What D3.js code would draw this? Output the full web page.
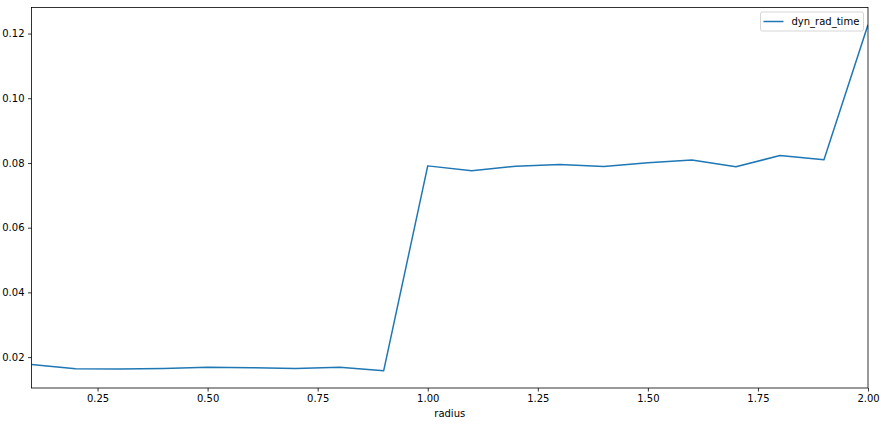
<!DOCTYPE html>
<html>
<head>
<meta charset="utf-8">
<script src="https://cdn.jsdelivr.net/npm/d3@7"></script>
<style>
  body { margin: 0; background: #fff; }
  svg text { font-family: "DejaVu Sans", sans-serif; }
</style>
</head>
<body>
<div id="chart"></div>
<script>
var radius = [0.1, 0.2, 0.3, 0.4, 0.5, 0.6, 0.7, 0.8, 0.9, 1.0, 1.1, 1.2, 1.3, 1.4, 1.5, 1.6, 1.7, 1.8, 1.9, 2.0]
var dynRadTime = [0.0177, 0.0164, 0.0163, 0.0165, 0.0169, 0.0167, 0.0165, 0.0169, 0.0158, 0.0791,
  0.0776, 0.0790, 0.0795, 0.0789, 0.0801, 0.0809, 0.0788, 0.0823, 0.0810, 0.1227]
var xTicks = [0.25, 0.5, 0.75, 1.0, 1.25, 1.5, 1.75, 2.0]
var yTicks = [0.02, 0.04, 0.06, 0.08, 0.10, 0.12]

var width = 883, height = 430
var margin = {top: 7.5, right: 15, bottom: 42, left: 31.5}

var svg = d3.select("#chart")
  .append("svg")
  .attr("width", width)
  .attr("height", height)

var data = radius.map((r, i) => ({r: r, v: dynRadTime[i]}))

// matplotlib style 5% margin on y
var yMin = d3.min(dynRadTime), yMax = d3.max(dynRadTime)
var pad = (yMax - yMin) * 0.05

var xScale = d3.scaleLinear()
  .domain([0.1, 2.0])
  .range([margin.left, width - margin.right])

var yScale = d3.scaleLinear()
  .domain([yMin - pad, yMax + pad])
  .range([height - margin.bottom, margin.top])

var xAxis = d3.axisBottom(xScale)
  .tickValues(xTicks)
  .tickSize(3.5)
  .tickPadding(3.5)
  .tickFormat(d3.format('.2f'))

var yAxis = d3.axisLeft(yScale)
  .tickValues(yTicks)
  .tickSize(3.5)
  .tickPadding(3.5)
  .tickFormat(d3.format('.2f'))

// line
var line = d3.line()
  .x(d => xScale(d.r))
  .y(d => yScale(d.v))

svg.append("defs").append("clipPath")
  .attr("id", "clip")
  .append("rect")
  .attr("x", margin.left)
  .attr("y", margin.top)
  .attr("width", width - margin.left - margin.right)
  .attr("height", height - margin.top - margin.bottom)

svg.append("path")
  .datum(data)
  .attr("clip-path", "url(#clip)")
  .attr("fill", "none")
  .attr("stroke", "#1f77b4")
  .attr("stroke-width", 1.5)
  .attr("stroke-linejoin", "round")
  .attr("d", line)

// axes
svg.append("g")
  .attr("transform", `translate(0,${height - margin.bottom})`)
  .call(xAxis)
  .call(g => g.select(".domain").remove())
  .selectAll("text")
  .attr("font-size", "10px")
  .attr("fill", "#000")

svg.append("g")
  .attr("transform", `translate(${margin.left},0)`)
  .call(yAxis)
  .call(g => g.select(".domain").remove())
  .selectAll("text")
  .attr("font-size", "10px")
  .attr("fill", "#000")

svg.selectAll(".tick line").attr("stroke", "#000").attr("stroke-width", 0.8)

// frame
svg.append("rect")
  .attr("x", margin.left)
  .attr("y", margin.top)
  .attr("width", width - margin.left - margin.right)
  .attr("height", height - margin.top - margin.bottom)
  .attr("fill", "none")
  .attr("stroke", "#000")
  .attr("stroke-width", 0.8)

// x label
svg.append("text")
  .attr("x", (margin.left + width - margin.right) / 2)
  .attr("y", 416.5)
  .attr("text-anchor", "middle")
  .attr("font-size", "10px")
  .text("radius")

// legend
var legend = svg.append("g")
  .attr("transform", `translate(${width - margin.right - 107.5},${margin.top + 4.5})`)

legend.append("rect")
  .attr("width", 103)
  .attr("height", 19)
  .attr("rx", 2)
  .attr("fill", "#fff")
  .attr("fill-opacity", 0.8)
  .attr("stroke", "#ccc")
  .attr("stroke-width", 0.8)

legend.append("line")
  .attr("x1", 3)
  .attr("x2", 23)
  .attr("y1", 9.5)
  .attr("y2", 9.5)
  .attr("stroke", "#1f77b4")
  .attr("stroke-width", 1.5)

legend.append("text")
  .attr("x", 31)
  .attr("y", 13)
  .attr("font-size", "10px")
  .text("dyn_rad_time")
</script>
</body>
</html>
